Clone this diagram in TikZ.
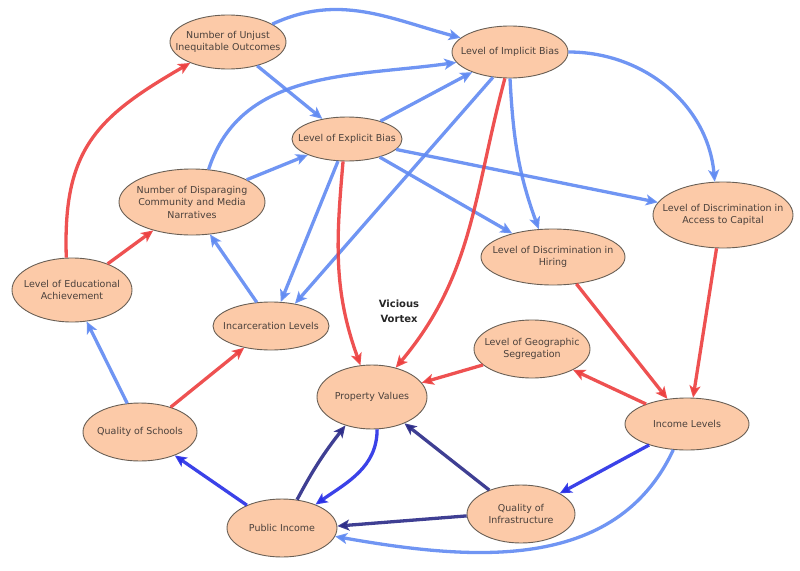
\documentclass[tikz,border=0pt]{standalone}
\usepackage{fontspec}
\setmainfont{DejaVu Sans}
\usetikzlibrary{shapes.geometric,arrows.meta}
\definecolor{peach}{RGB}{252,202,168}
\definecolor{rim}{RGB}{105,95,85}
\definecolor{ink}{RGB}{75,65,60}
\definecolor{lblue}{RGB}{96,138,242}
\definecolor{lred}{RGB}{236,62,62}
\definecolor{mblue}{RGB}{38,45,230}
\definecolor{navy}{RGB}{42,42,135}
\begin{document}
\begin{tikzpicture}[x=1pt,y=1pt,
	factor/.style={ellipse,draw=rim,line width=0.9pt,fill=peach,text=ink,align=center,
		inner xsep=-15pt,inner ysep=-2pt,font=\fontsize{9.5}{12.5}\selectfont},
	link/.style={line width=3.3pt,opacity=0.9,-{Stealth[length=12pt,width=11pt,inset=3pt]}}]
	\useasboundingbox (0,0) rectangle (800,-570);
	\node[factor,minimum width=116pt,minimum height=54pt] (unjust) at (228,-42) {Number of Unjust\\Inequitable Outcomes};
	\node[factor,minimum width=116pt,minimum height=52pt] (implicit) at (510,-52) {Level of Implicit Bias};
	\node[factor,minimum width=110pt,minimum height=44pt] (explicit) at (347,-139) {Level of Explicit Bias};
	\node[factor,minimum width=146pt,minimum height=66pt] (disparage) at (192,-202) {Number of Disparaging\\Community and Media\\Narratives};
	\node[factor,minimum width=120pt,minimum height=64pt] (educ) at (72,-290) {Level of Educational\\Achievement};
	\node[factor,minimum width=116pt,minimum height=48pt] (incarc) at (271,-326) {Incarceration Levels};
	\node[factor,minimum width=114pt,minimum height=58pt] (schools) at (140,-432) {Quality of Schools};
	\node[factor,minimum width=110pt,minimum height=58pt] (pubinc) at (282,-528) {Public Income};
	\node[factor,minimum width=110pt,minimum height=64pt] (property) at (372,-397) {Property Values};
	\node[factor,minimum width=116pt,minimum height=58pt] (geo) at (532,-349) {Level of Geographic\\Segregation};
	\node[factor,minimum width=124pt,minimum height=52pt] (income) at (687,-424) {Income Levels};
	\node[factor,minimum width=108pt,minimum height=58pt] (infra) at (521,-514) {Quality of\\Infrastructure};
	\node[factor,minimum width=144pt,minimum height=56pt] (hiring) at (553,-257) {Level of Discrimination in\\Hiring};
	\node[factor,minimum width=140pt,minimum height=66pt] (capital) at (723,-215) {Level of Discrimination in\\Access to Capital};
	\node[align=center,text=black!85,font=\bfseries\fontsize{10}{15}\selectfont] (vortex) at (399,-311) {Vicious\\Vortex};

	\draw[link,lblue] (unjust.22) to[out=25,in=165] (implicit.164);
	\draw[link,lblue] (unjust) -- (explicit);
	\draw[link,lblue] (disparage.63) to[out=72,in=188] (implicit.191);
	\draw[link,lblue] (disparage) -- (explicit);
	\draw[link,lblue] (explicit) -- (implicit);
	\draw[link,lblue] (explicit) -- (incarc);
	\draw[link,lblue] (implicit.236) -- (incarc.43);
	\draw[link,lblue] (incarc.121) -- (disparage.299);
	\draw[link,lblue] (explicit.331) -- (hiring.150);
	\draw[link,lblue] (explicit.348) -- (capital.169);
	\draw[link,lblue] (implicit.270) to[out=-87,in=110] (hiring.117);
	\draw[link,lblue] (implicit.0) to[out=0,in=95] (capital.104);
	\draw[link,lblue] (schools.114) -- (educ.295);
	\draw[link,lblue] (income.242) to[out=245,in=-10] (pubinc.351);

	\draw[link,lred] (educ.100) to[out=92,in=210,looseness=1.2] (unjust.209);
	\draw[link,lred] (educ) -- (disparage);
	\draw[link,lred] (schools) -- (incarc);
	\draw[link,lred] (explicit.260) to[out=265,in=110] (property.110);
	\draw[link,lred] (implicit.259) to[out=255,in=50] (property.51);
	\draw[link,lred] (geo.198) -- (property.16);
	\draw[link,lred] (hiring.311) -- (income.128);
	\draw[link,lred] (capital.259) -- (income.77);
	\draw[link,lred] (income.154) -- (geo.333);

	\draw[link,navy] (pubinc.62) to[out=62,in=232] (property.227);
	\draw[link,navy] (infra.143) -- (property.321);
	\draw[link,navy] (infra.182) -- (pubinc.2);

	\draw[link,mblue] (property.279) to[out=270,in=35] (pubinc.35);
	\draw[link,mblue] (pubinc.147) -- (schools.326);
	\draw[link,mblue] (income.209) -- (infra.28);
\end{tikzpicture}
\end{document}
